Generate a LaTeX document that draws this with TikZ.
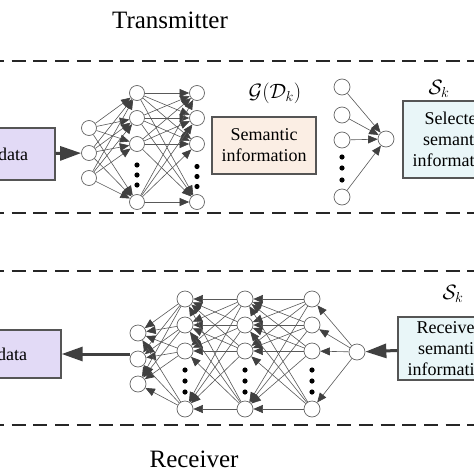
\documentclass[tikz,border=0pt]{standalone}
\usepackage{fontspec}
\setmainfont{Liberation Serif}
\usetikzlibrary{arrows.meta}
\definecolor{lav}{HTML}{E2DAF6}
\definecolor{peach}{HTML}{FBEEE4}
\definecolor{lcyan}{HTML}{E9F6F8}
\definecolor{dk}{HTML}{404040}
\definecolor{bord}{HTML}{555555}
\begin{document}
\begin{tikzpicture}[x=1pt,y=-1pt,
  neuron/.style={circle,draw=gray!80!black,line width=0.7pt,fill=white,minimum size=15pt,inner sep=0pt},
  rneuron/.style={neuron,minimum size=16pt},
  nn/.style={draw=gray!70!black,line width=0.6pt,-{Triangle[length=9.5pt,width=8pt,color=dk]}},
  big/.style={draw=dk,line width=3pt,-{Triangle[length=21pt,width=14pt]}},
  box/.style={draw=bord,line width=1.4pt,align=center,inner sep=0pt,
    font=\fontsize{18}{21}\selectfont},
  lbl/.style={font=\fontsize{22}{26}\selectfont,inner sep=0pt},
  title/.style={font=\fontsize{25}{28}\selectfont,inner sep=0pt},
  dline/.style={draw=black!85,line width=2pt,dash pattern=on 14pt off 7.7pt,dash phase=10pt},
  dotc/.style={fill=black}
]
\clip (0,0) rectangle (474,474);
\fill[white] (0,0) rectangle (474,474);

% titles
\node[title] (ttl) at (170,20) {Transmitter};
\node[title] (rttl) at (194,459) {Receiver};

% dashed separators
\draw[dline] (0,61) -- (474,61);
\draw[dline] (0,213) -- (474,213);
\draw[dline] (0,271) -- (474,271);
\draw[dline] (0,425) -- (474,425);

% ---------------- Transmitter ----------------
\node[box,fill=lav,minimum width=84pt,minimum height=52pt] (tdata) at (13,154) {data};
\node[box,fill=peach,minimum width=104pt,minimum height=57pt] (tsem) at (264,145.5) {Semantic\\information};
\node[box,fill=lcyan,minimum width=104pt,minimum height=77pt] (tsel) at (455,139.5) {Selected\\semantic\\information};
\node[lbl] (lg) at (275,93) {$\mathcal{G}(\mathcal{D}_k)$};
\node[lbl] (ls1) at (439,89) {$\mathcal{S}_k$};

\foreach \y [count=\i] in {128,153,178} \node[neuron] (ta\i) at (89,\y) {};
\foreach \y [count=\i] in {93,118,144,202} {
  \node[neuron] (tb\i) at (137,\y) {};
  \node[neuron] (tc\i) at (197,\y) {};
}
\foreach \y in {165,175,185} {
  \fill[dotc] (137,\y) circle[radius=2.6pt];
  \fill[dotc] (197,\y+1.5) circle[radius=2.6pt];
}
\foreach \i in {1,2,3} \foreach \j in {1,...,4} \draw[nn] (ta\i) -- (tb\j);
\foreach \i in {1,...,4} \foreach \j in {1,...,4} \draw[nn] (tb\i) -- (tc\j);

\foreach \y [count=\i] in {87,115,140,197} \node[neuron,minimum size=16pt] (tr\i) at (342,\y) {};
\node[neuron,minimum size=16pt] (tout) at (386,139) {};
\foreach \y in {157,168,180} \fill[dotc] (342,\y) circle[radius=2.6pt];
\foreach \i in {1,...,4} \draw[nn] (tr\i) -- (tout);

\draw[big] (tdata) -- (ta2);

% ---------------- Receiver ----------------
\node[box,fill=lav,minimum width=98pt,minimum height=48pt] (rdata) at (12,354) {data};
\node[box,fill=lcyan,minimum width=104pt,minimum height=63pt] (rrecv) at (450,348.5) {Received\\semantic\\information};
\node[lbl] (ls2) at (453,294) {$\mathcal{S}_k$};

\foreach \y [count=\i] in {333,359,384} \node[rneuron] (ra\i) at (138,\y) {};
\foreach \y [count=\i] in {299,325,351,409} {
  \node[rneuron] (rb\i) at (185,\y) {};
  \node[rneuron] (rc\i) at (245,\y) {};
  \node[rneuron] (rd\i) at (312,\y) {};
}
\node[rneuron] (rin) at (357,352) {};
\foreach \y in {370,381,392} {
  \fill[dotc] (185,\y) circle[radius=2.6pt];
  \fill[dotc] (245,\y) circle[radius=2.6pt];
  \fill[dotc] (312,\y) circle[radius=2.6pt];
}
\foreach \j in {1,...,4} \draw[nn] (rin) -- (rd\j);
\foreach \i in {1,...,4} \foreach \j in {1,...,4} {
  \draw[nn] (rd\i) -- (rc\j);
  \draw[nn] (rc\i) -- (rb\j);
}
\foreach \i in {1,...,4} \foreach \j in {1,2,3} \draw[nn] (rb\i) -- (ra\j);

\coordinate (rstart) at (130,354);
\draw[big] (rstart) -- (rdata);
\draw[big] (rrecv) -- (rin);
\end{tikzpicture}
\end{document}
